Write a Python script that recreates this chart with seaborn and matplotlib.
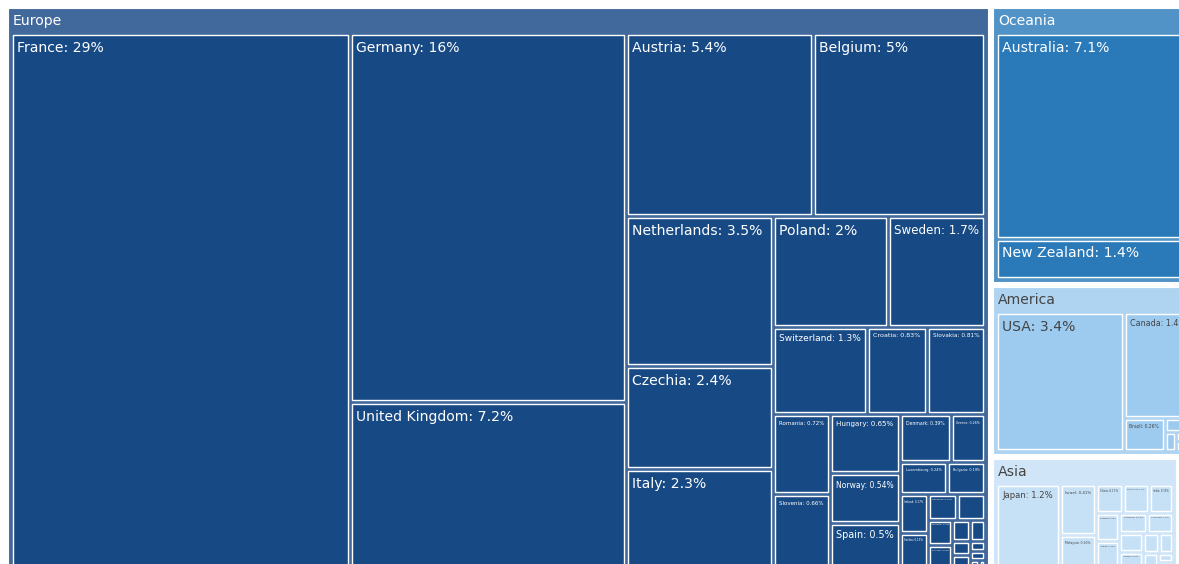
import matplotlib
matplotlib.use("Agg")
import matplotlib.pyplot as plt
from matplotlib.patches import Rectangle
from matplotlib.font_manager import FontProperties
import pandas as pd
import seaborn as sns

# --------------------------
# data: share of total (%) per country, by continent
# --------------------------
continents = ["Europe", "Oceania", "America", "Asia", "Africa"]

europe_countries = ["France", "Germany", "United Kingdom", "Austria", "Belgium",
                    "Netherlands", "Czechia", "Italy", "Poland", "Sweden",
                    "Switzerland", "Croatia", "Slovakia", "Romania", "Slovenia",
                    "Hungary", "Norway", "Spain", "Denmark", "Greece",
                    "Luxembourg", "Bulgaria", "Ireland", "Serbia", "Lithuania",
                    "Bosnia and Herzegovina", "Finland", "Portugal", "Estonia",
                    "Latvia", "Iceland", "Ukraine", "Cyprus", "Malta",
                    "North Macedonia", "Albania"]
europe_share = [28.7, 16.1, 7.25, 5.4, 5, 3.5, 2.4, 2.3, 2, 1.7,
                1.3, 0.83, 0.81, 0.72, 0.66, 0.65, 0.54, 0.5, 0.39, 0.26,
                0.24, 0.19, 0.17, 0.155, 0.12, 0.115, 0.1, 0.09, 0.06,
                0.05, 0.04, 0.035, 0.025, 0.02, 0.012, 0.008]

oceania_countries = ["Australia", "New Zealand"]
oceania_share = [7.1, 1.4]

america_countries = ["USA", "Canada", "Brazil", "Mexico", "Argentina", "Chile",
                     "Colombia", "Peru"]
america_share = [3.4, 1.4, 0.26, 0.07, 0.04, 0.03, 0.02, 0.01]

asia_countries = ["Japan", "Israel", "Malaysia", "China", "South Korea", "India",
                  "Singapore", "Taiwan", "Thailand", "Hong Kong",
                  "United Arab Emirates", "Indonesia", "Philippines", "Vietnam",
                  "Saudi Arabia", "Qatar", "Kazakhstan"]
asia_share = [1.16, 0.41, 0.26, 0.17, 0.165, 0.155, 0.14, 0.135, 0.12, 0.11,
              0.1, 0.08, 0.07, 0.06, 0.05, 0.03, 0.02]

africa_countries = ["South Africa", "Egypt", "Morocco", "Kenya", "Nigeria"]
africa_share = [0.17, 0.06, 0.05, 0.03, 0.02]

leaf_colors = ["#174a84", "#2a7aba", "#9dcbf0", "#c6e0f5", "#dcecf9"]
header_colors = ["#42699c", "#5193c7", "#afd4f2", "#d0e6f8", "#e4f0fa"]
text_colors = ["white", "white", "#444444", "#444444", "#444444"]

df = pd.concat([
    pd.DataFrame({"continent": c, "country": n, "share": s})
    for c, n, s in zip(continents,
                       [europe_countries, oceania_countries, america_countries,
                        asia_countries, africa_countries],
                       [europe_share, oceania_share, america_share,
                        asia_share, africa_share])
], ignore_index=True)


# --------------------------
# squarified tiling (same rule as d3 / plotly)
# --------------------------
def squarify(values, x0, y0, x1, y1, ratio=1.0):
    rects = [None] * len(values)
    value = float(sum(values))
    n = len(values)
    i0 = i1 = 0
    while i0 < n:
        dx, dy = x1 - x0, y1 - y0
        s = values[i1]
        i1 += 1
        vmin = vmax = s
        alpha = max(dy / dx, dx / dy) / (value * ratio)
        beta = s * s * alpha
        best = max(vmax / beta, beta / vmin)
        while i1 < n:
            v = values[i1]
            s2 = s + v
            lo, hi = min(vmin, v), max(vmax, v)
            beta = s2 * s2 * alpha
            r = max(hi / beta, beta / lo)
            if r > best:
                break
            s, vmin, vmax, best = s2, lo, hi, r
            i1 += 1
        if dx < dy:
            h = dy * s / value
            xx = x0
            for i in range(i0, i1):
                w = dx * values[i] / s
                rects[i] = (xx, y0, xx + w, y0 + h)
                xx += w
            y0 += h
        else:
            w = dx * s / value
            yy = y0
            for i in range(i0, i1):
                h = dy * values[i] / s
                rects[i] = (x0, yy, x0 + w, yy + h)
                yy += h
            x0 += w
        value -= s
        i0 = i1
    return rects


def tile(values, box, gap):
    x0, y0, x1, y1 = box
    p = gap / 2
    out = []
    for a, b, c, d in squarify(values, x0 - p, y0 - p, x1 + p, y1 + p):
        out.append((a + p, b + p, max(c - p, a + p), max(d - p, b + p)))
    return out


W, H, DPI = 1179, 564, 100
ROOT = (8, 8, 1195, 571)
PAD_T, PAD_S = 27, 5
TOP_GAP, LEAF_GAP = 5, 4
MAX_PX = 14

sns.set_theme(style="white")
plt.rcParams["font.family"] = ["DejaVu Sans"]

fig = plt.figure(figsize=(W / DPI, H / DPI), dpi=DPI)
ax = fig.add_axes([0, 0, 1, 1])
ax.set_xlim(0, W)
ax.set_ylim(H, 0)
ax.axis("off")
fig.canvas.draw()
renderer = fig.canvas.get_renderer()


def text_width(s, px):
    prop = FontProperties(family="DejaVu Sans", size=px * 72 / DPI)
    w, h, d = renderer.get_text_width_height_descent(s, prop, ismath=False)
    return w


totals = df.groupby("continent", sort=False)["share"].sum()
order = totals.sort_values(ascending=False).index.tolist()
cont_boxes = tile(totals[order].tolist(), ROOT, TOP_GAP)

for cont, cbox in zip(order, cont_boxes):
    k = continents.index(cont)
    x0, y0, x1, y1 = cbox
    ax.add_patch(Rectangle((x0, y0), x1 - x0, y1 - y0, facecolor=header_colors[k],
                           edgecolor="white", lw=0.8))
    if x0 + 5 < W - 6:
        ax.text(x0 + 5, y0 + 4 + 0.15 * MAX_PX, cont, fontsize=MAX_PX * 72 / DPI,
                color=text_colors[k], va="top", ha="left", clip_on=True)

    sub = df[df["continent"] == cont].sort_values("share", ascending=False)
    inner = (x0 + PAD_S, y0 + PAD_T, x1 - PAD_S, y1 - PAD_S)
    leaf_boxes = tile(sub["share"].tolist(), inner, LEAF_GAP)
    for (name, share), (a, b, c, d) in zip(zip(sub["country"], sub["share"]), leaf_boxes):
        ax.add_patch(Rectangle((a, b), c - a, d - b, facecolor=leaf_colors[k],
                               edgecolor="white", lw=1.0))
        label = f"{name}: {share:.2g}%"
        bw, bh = c - a, d - b
        padx = min(4, bw * 0.1)
        fs = min(MAX_PX, MAX_PX * (bw - 2 * padx) / text_width(label, MAX_PX),
                 (bh - 4) / 1.4)
        # skip labels that are too small or start outside the visible area
        if fs < 1.5 or a + padx > W - 12 or b > H - 4:
            continue
        ax.text(a + padx, b + min(4, bh * 0.1) + 0.15 * fs, label,
                fontsize=fs * 72 / DPI, color=text_colors[k],
                va="top", ha="left", clip_on=True)

fig.savefig("out.png", dpi=DPI)
